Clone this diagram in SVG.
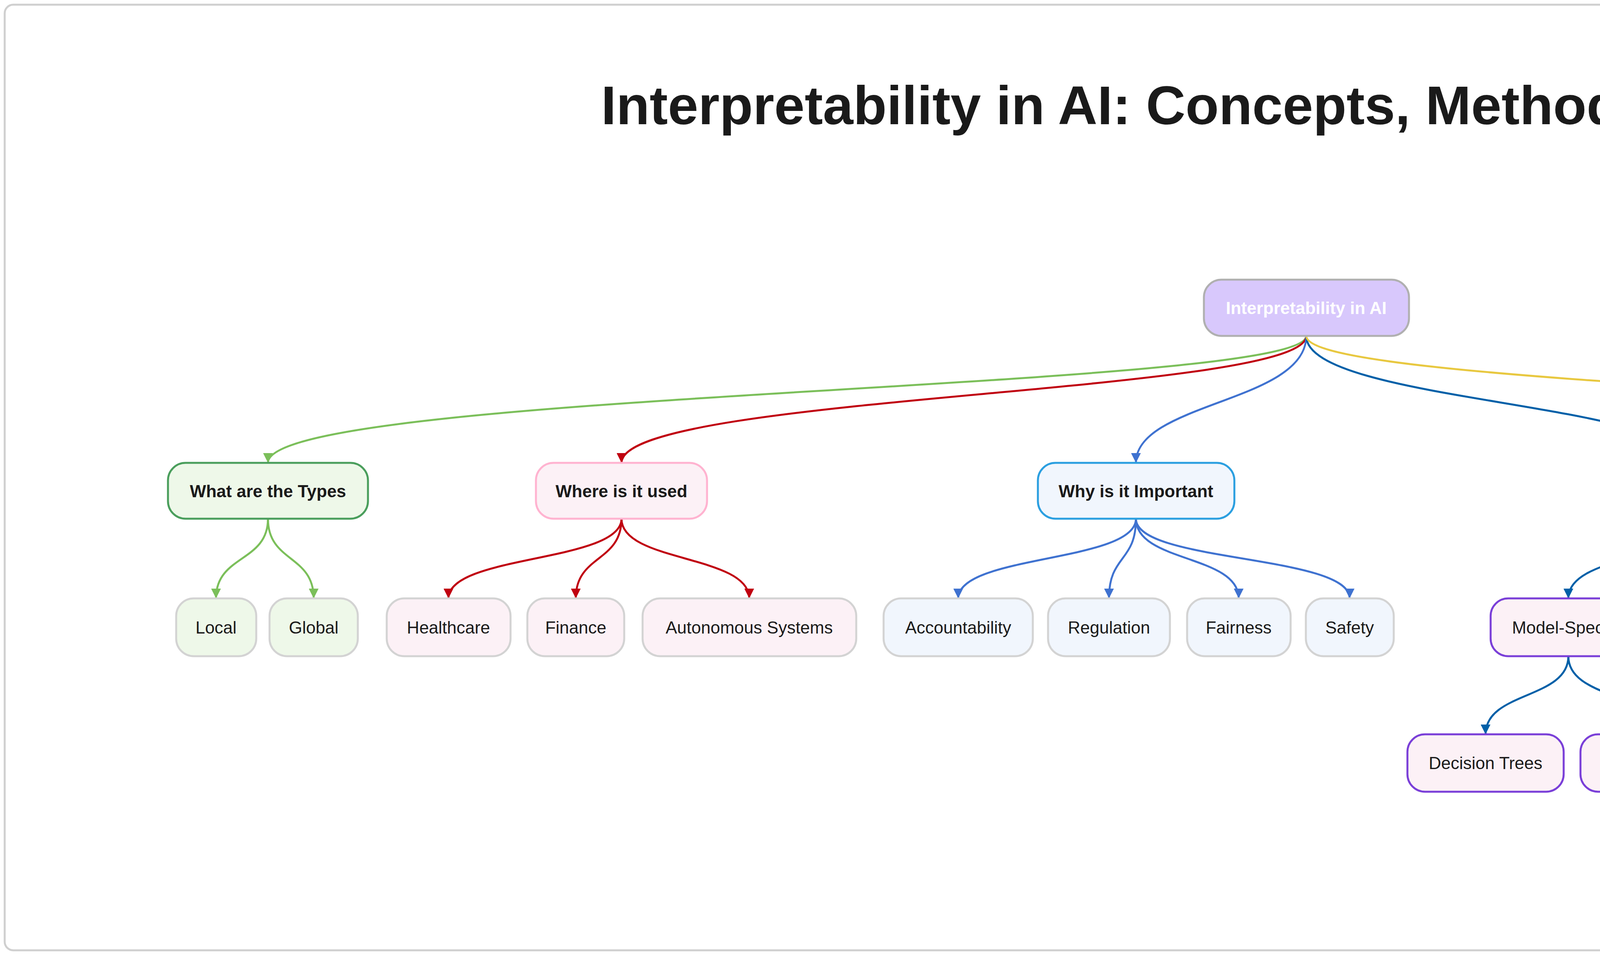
<svg xmlns="http://www.w3.org/2000/svg" width="6807" height="2445" viewBox="0 0 6807 2445">
<style>
text{font-family:"Liberation Sans",Arial,sans-serif;text-anchor:middle;dominant-baseline:central;fill:#1a1a1a}
.t1{font-size:44px;font-weight:bold}
.t2{font-size:44px}
.e{fill:none;stroke-width:5}
.g{fill:#eef8e9}.p{fill:#fcf1f6}.b{fill:#f1f6fd}.y{fill:#fbf8e4}
.leaf{stroke:#d3d3d3;stroke-width:5}
</style>
<defs>
<marker id="mg" viewBox="0 0 10 10" refX="10" refY="5" markerWidth="5" markerHeight="5" orient="auto"><path d="M0,0L10,5L0,10z" fill="#7bbf5a"/></marker>
<marker id="mr" viewBox="0 0 10 10" refX="10" refY="5" markerWidth="5" markerHeight="5" orient="auto"><path d="M0,0L10,5L0,10z" fill="#c00010"/></marker>
<marker id="mb" viewBox="0 0 10 10" refX="10" refY="5" markerWidth="5" markerHeight="5" orient="auto"><path d="M0,0L10,5L0,10z" fill="#3f72d0"/></marker>
<marker id="md" viewBox="0 0 10 10" refX="10" refY="5" markerWidth="5" markerHeight="5" orient="auto"><path d="M0,0L10,5L0,10z" fill="#0060a8"/></marker>
<marker id="my" viewBox="0 0 10 10" refX="10" refY="5" markerWidth="5" markerHeight="5" orient="auto"><path d="M0,0L10,5L0,10z" fill="#e8c840"/></marker>
</defs>
<rect x="0" y="0" width="6807" height="2445" fill="#fff"/>
<rect x="12" y="12" width="6783" height="2421" rx="22" fill="none" stroke="#cfcfcf" stroke-width="5"/>
<text x="3482" y="269" style="font-size:140px;font-weight:bold">Interpretability in AI: Concepts, Methods, and Applications</text>
<g id="connectors">
<path class="e" stroke="#7bbf5a" marker-end="url(#mg)" d="M3344,860 C3344,1000 686,1000 686,1185"/>
<path class="e" stroke="#c00010" marker-end="url(#mr)" d="M3344,860 C3344,1010 1591,1010 1591,1185"/>
<path class="e" stroke="#3f72d0" marker-end="url(#mb)" d="M3344,860 C3344,1030 2908,1030 2908,1185"/>
<path class="e" stroke="#0060a8" marker-end="url(#md)" d="M3344,860 C3344,1030 4311,1030 4311,1185"/>
<path class="e" stroke="#e8c840" marker-end="url(#my)" d="M3344,860 C3344,1000 5717,1000 5717,1185"/>
<g stroke-width="4">
<path class="e" stroke="#7bbf5a" marker-end="url(#mg)" d="M686,1328 C686,1440 553,1420 553,1532"/>
<path class="e" stroke="#7bbf5a" marker-end="url(#mg)" d="M686,1328 C686,1440 803,1420 803,1532"/>
<path class="e" stroke="#c00010" marker-end="url(#mr)" d="M1591,1328 C1591,1440 1148,1420 1148,1532"/>
<path class="e" stroke="#c00010" marker-end="url(#mr)" d="M1591,1328 C1591,1440 1474,1420 1474,1532"/>
<path class="e" stroke="#c00010" marker-end="url(#mr)" d="M1591,1328 C1591,1440 1918,1420 1918,1532"/>
<path class="e" stroke="#3f72d0" marker-end="url(#mb)" d="M2908,1328 C2908,1440 2453,1420 2453,1532"/>
<path class="e" stroke="#3f72d0" marker-end="url(#mb)" d="M2908,1328 C2908,1440 2839,1420 2839,1532"/>
<path class="e" stroke="#3f72d0" marker-end="url(#mb)" d="M2908,1328 C2908,1440 3171,1420 3171,1532"/>
<path class="e" stroke="#3f72d0" marker-end="url(#mb)" d="M2908,1328 C2908,1440 3455,1420 3455,1532"/>
<path class="e" stroke="#0060a8" marker-end="url(#md)" d="M4311,1328 C4311,1440 4015,1420 4015,1532"/>
<path class="e" stroke="#0060a8" marker-end="url(#md)" d="M4311,1328 C4311,1440 4744,1420 4744,1532"/>
<path class="e" stroke="#0060a8" marker-end="url(#md)" d="M4015,1680 C4015,1790 3803,1770 3803,1880"/>
<path class="e" stroke="#0060a8" marker-end="url(#md)" d="M4015,1680 C4015,1790 4237,1770 4237,1880"/>
<path class="e" stroke="#0060a8" marker-end="url(#md)" d="M4744,1680 L4744,1880"/>
<path class="e" stroke="#e8c840" marker-end="url(#my)" d="M5717,1328 C5717,1440 5400,1420 5400,1532"/>
<path class="e" stroke="#e8c840" marker-end="url(#my)" d="M5717,1328 C5717,1440 6047,1420 6047,1532"/>
</g>
</g>
<g id="root"><rect x="3082" y="716" width="525" height="144" rx="45" fill="#d8c8fc" stroke="#b0b0b0" stroke-width="5"/><text x="3344" y="788" class="t1" style="fill:#fff">Interpretability in AI</text></g>
<g id="types"><rect x="430" y="1185" width="512" height="143" rx="45" class="g" stroke="#4a9e5c" stroke-width="5"/><text x="686" y="1257" class="t1">What are the Types</text></g>
<g id="where"><rect x="1372" y="1185" width="438" height="143" rx="45" class="p" stroke="#ffb3d0" stroke-width="5"/><text x="1591" y="1257" class="t1">Where is it used</text></g>
<g id="why"><rect x="2657" y="1185" width="503" height="143" rx="45" class="b" stroke="#2b9fe0" stroke-width="5"/><text x="2908" y="1257" class="t1">Why is it Important</text></g>
<g id="techniques"><rect x="4146" y="1185" width="330" height="143" rx="45" class="p" stroke="#7a3fd8" stroke-width="5"/><text x="4311" y="1257" class="t1">Techniques</text></g>
<g id="how"><rect x="5439" y="1185" width="556" height="143" rx="45" class="y" stroke="#f0d060" stroke-width="5"/><text x="5717" y="1257" class="t1">How do we achieve it</text></g>
<g id="local"><rect x="451" y="1532" width="205" height="148" rx="45" class="g leaf"/><text x="553" y="1606" class="t2">Local</text></g>
<g id="global"><rect x="690" y="1532" width="226" height="148" rx="45" class="g leaf"/><text x="803" y="1606" class="t2">Global</text></g>
<g id="healthcare"><rect x="990" y="1532" width="317" height="148" rx="45" class="p leaf"/><text x="1148" y="1606" class="t2">Healthcare</text></g>
<g id="finance"><rect x="1350" y="1532" width="248" height="148" rx="45" class="p leaf"/><text x="1474" y="1606" class="t2">Finance</text></g>
<g id="autonomous"><rect x="1645" y="1532" width="547" height="148" rx="45" class="p leaf"/><text x="1918" y="1606" class="t2">Autonomous Systems</text></g>
<g id="accountability"><rect x="2262" y="1532" width="382" height="148" rx="45" class="b leaf"/><text x="2453" y="1606" class="t2">Accountability</text></g>
<g id="regulation"><rect x="2683" y="1532" width="312" height="148" rx="45" class="b leaf"/><text x="2839" y="1606" class="t2">Regulation</text></g>
<g id="fairness"><rect x="3039" y="1532" width="265" height="148" rx="45" class="b leaf"/><text x="3171" y="1606" class="t2">Fairness</text></g>
<g id="safety"><rect x="3343" y="1532" width="225" height="148" rx="45" class="b leaf"/><text x="3455" y="1606" class="t2">Safety</text></g>
<g id="model-specific"><rect x="3816" y="1532" width="399" height="148" rx="45" class="p" stroke="#7a3fd8" stroke-width="5"/><text x="4015" y="1606" class="t2">Model-Specific</text></g>
<g id="model-agnostic"><rect x="4536" y="1532" width="417" height="148" rx="45" class="p" stroke="#7a3fd8" stroke-width="5"/><text x="4744" y="1606" class="t2">Model-Agnostic</text></g>
<g id="ma-methods"><rect x="5092" y="1532" width="617" height="148" rx="45" class="y leaf"/><text x="5400" y="1606" class="t2">Model-Agnostic methods</text></g>
<g id="ms-methods"><rect x="5748" y="1532" width="599" height="148" rx="45" class="y leaf"/><text x="6047" y="1606" class="t2">Model-Specific methods</text></g>
<g id="decision-trees"><rect x="3603" y="1880" width="400" height="147" rx="45" class="p" stroke="#7a3fd8" stroke-width="5"/><text x="3803" y="1953" class="t2">Decision Trees</text></g>
<g id="linear-models"><rect x="4046" y="1880" width="382" height="147" rx="45" class="p" stroke="#7a3fd8" stroke-width="5"/><text x="4237" y="1953" class="t2">Linear Models</text></g>
<g id="lime"><rect x="4471" y="1880" width="547" height="147" rx="45" class="p" stroke="#7a3fd8" stroke-width="5"/><text x="4744" y="1953" class="t2">LIME, SHAP, PDP, ALE</text></g>
</svg>
